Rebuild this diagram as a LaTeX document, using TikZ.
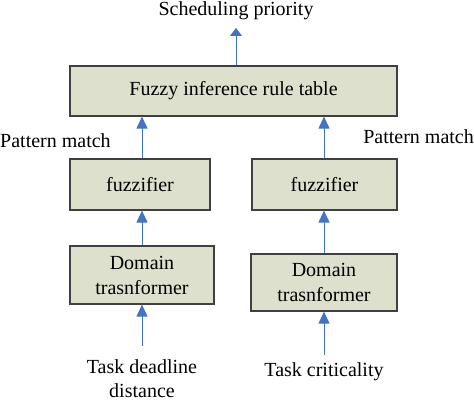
\documentclass[tikz,border=0pt]{standalone}
\usepackage{fontspec}
\setmainfont{Liberation Serif}
\usetikzlibrary{arrows.meta}
\definecolor{boxfill}{HTML}{DDE0CC}
\definecolor{boxline}{HTML}{404040}
\definecolor{arrowblue}{HTML}{4472C4}
\begin{document}
\begin{tikzpicture}[x=1pt,y=-1pt,
  blk/.style={draw=boxline,fill=boxfill,line width=1.2pt,inner sep=0pt,align=center,font=\fontsize{20}{25}\selectfont},
  lbl/.style={inner sep=0pt,align=center,font=\fontsize{20}{24}\selectfont},
  flow/.style={draw=arrowblue,line width=1pt,-{Triangle[width=11pt,length=12pt]}}]
\useasboundingbox (0,0) rectangle (474,401);
\node[blk,minimum width=327pt,minimum height=50pt] (rule) at (233.5,91) {Fuzzy inference rule table};
\node[blk,minimum width=140pt,minimum height=51pt] (fz1) at (140,184.5) {fuzzifier};
\node[blk,minimum width=145pt,minimum height=51pt] (fz2) at (324.5,184.5) {fuzzifier};
\node[blk,minimum width=144pt,minimum height=58pt] (dt1) at (142,275) {Domain\\trasnformer};
\node[blk,minimum width=146pt,minimum height=57pt] (dt2) at (324,282.5) {Domain\\trasnformer};
\node[lbl] (out) at (236,11) {Scheduling priority};
\coordinate (outtip) at (236,28);
\node[lbl,anchor=west] (pm1) at (0,141) {Pattern match};
\node[lbl,anchor=east] (pm2) at (474,137) {Pattern match};
\node[lbl] (in1) at (142,379) {Task deadline\\distance};
\node[lbl] (in2) at (324,372) {Task criticality};
\coordinate (in1top) at (142,346);
\coordinate (in2top) at (324,355);
\draw[flow,-{Triangle[width=12pt,length=8pt]}] (rule.north -| outtip) -- (outtip);
\draw[flow] (fz1.north -| dt1.north) -- (rule.south -| dt1.north);
\draw[flow] (fz2.north -| dt2.north) -- (rule.south -| dt2.north);
\draw[flow] (dt1.north) -- (fz1.south -| dt1.north);
\draw[flow] (dt2.north) -- (fz2.south -| dt2.north);
\draw[flow] (in1top) -- (dt1.south);
\draw[flow] (in2top) -- (dt2.south);
\end{tikzpicture}
\end{document}
